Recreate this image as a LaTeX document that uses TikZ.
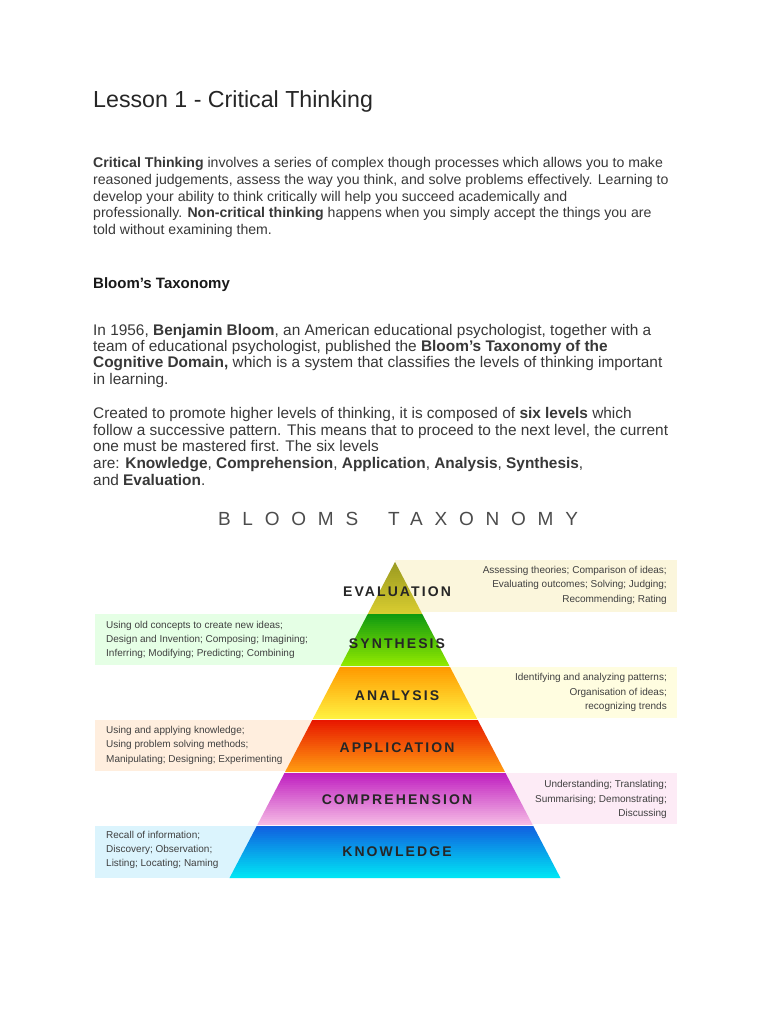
\documentclass[tikz,border=0pt]{standalone}
\usepackage{fontspec}
\setmainfont{Liberation Sans}
\newfontfamily\spacedfont[LetterSpace=15]{Liberation Sans}
\newfontfamily\widefont[LetterSpace=62]{Liberation Sans}
\begin{document}
\begin{tikzpicture}[x=1pt,y=-1pt,
  body/.style={anchor=base west,inner sep=0,text=black!78,font=\fontsize{14.1}{16}\selectfont},
  bodyb/.style={anchor=base west,inner sep=0,text=black!78,font=\fontsize{15.4}{17}\selectfont},
  lvl/.style={inner sep=0,text=black!85,font=\spacedfont\bfseries\fontsize{14}{16}\selectfont},
  side/.style={inner sep=0,text=black!75,font=\fontsize{10}{12}\selectfont},
  sidel/.style={side,anchor=base west},
  sider/.style={side,anchor=base east}]
\useasboundingbox (0,0) rectangle (768,1024);
\fill[white] (0,0) rectangle (768,1024);
\node[anchor=base west,inner sep=0,text=black!85,font=\fontsize{23.2}{27}\selectfont] (title) at (93,108) {Lesson 1 - Critical Thinking};
\node[body] (p1) at (93,168) {\textbf{Critical Thinking} involves a series of complex though processes which allows you to make};
\node[body] (p2) at (93,185) {reasoned judgements, assess the way you think, and solve problems effectively. Learning to};
\node[body] (p3) at (93,202) {develop your ability to think critically will help you succeed academically and};
\node[body] (p4) at (93,218) {professionally. \textbf{Non-critical thinking} happens when you simply accept the things you are};
\node[body] (p5) at (93,235) {told without examining them.};
\node[body,text=black!90,font=\bfseries\fontsize{15}{17}\selectfont] (h) at (93,288) {Bloom's Taxonomy};
\node[bodyb] (q1) at (93,335) {In 1956, \textbf{Benjamin Bloom}, an American educational psychologist, together with a};
\node[bodyb] (q2) at (93,351) {team of educational psychologist, published the \textbf{Bloom's Taxonomy of the}};
\node[bodyb] (q3) at (93,367) {\textbf{Cognitive Domain,} which is a system that classifies the levels of thinking important};
\node[bodyb] (q4) at (93,384) {in learning.};
\node[bodyb] (r1) at (93,418) {Created to promote higher levels of thinking, it is composed of \textbf{six levels} which};
\node[bodyb] (r2) at (93,435) {follow a successive pattern. This means that to proceed to the next level, the current};
\node[bodyb] (r3) at (93,451) {one must be mastered first. The six levels};
\node[bodyb] (r4) at (93,468) {are: \textbf{Knowledge}, \textbf{Comprehension}, \textbf{Application}, \textbf{Analysis}, \textbf{Synthesis},};
\node[bodyb] (r5) at (93,485) {and \textbf{Evaluation}.};
\node[inner sep=0,text=black!70,font=\widefont\fontsize{19}{22}\selectfont] (bt) at (398,519) {BLOOMS\hspace{30pt}TAXONOMY};
% side boxes
\fill[yellow!60!brown!15] (395,560) rectangle (677,612);
\fill[green!10] (95,614) rectangle (395,665);
\fill[yellow!12] (395,667) rectangle (677,718);
\fill[orange!13] (95,720) rectangle (395,771);
\fill[magenta!8] (395,773) rectangle (677,824);
\fill[cyan!14] (95,826) rectangle (395,878);
% pyramid bands as stacked strips
\definecolor{e1}{HTML}{9A9A20}\definecolor{e2}{HTML}{D8CC30}
\definecolor{s1}{HTML}{109A10}\definecolor{s2}{HTML}{90E800}
\definecolor{a1}{HTML}{FF9A00}\definecolor{a2}{HTML}{FFF040}
\definecolor{ap1}{HTML}{E81800}\definecolor{ap2}{HTML}{FF9A10}
\definecolor{c1}{HTML}{C020C0}\definecolor{c2}{HTML}{F4B8E4}
\definecolor{k1}{HTML}{1060E0}\definecolor{k2}{HTML}{00E4F4}
\foreach \ya/\ca/\cb in {562/e1/e2,614/s1/s2,667/a1/a2,720/ap1/ap2,773/c1/c2,826/k1/k2}{
  \foreach \i in {0,...,25}{
    \pgfmathsetmacro\ytop{\ya+2*\i}
    \pgfmathsetmacro\ybot{\ya+2*\i+2.2}
    \pgfmathsetmacro\wa{0.5237*(\ytop-562)}
    \pgfmathsetmacro\wb{0.5237*(\ybot-562)}
    \pgfmathtruncatemacro\pc{4*\i}
    \fill[\cb!\pc!\ca] (395-\wa,\ytop) -- (395+\wa,\ytop) -- (395+\wb,\ybot) -- (395-\wb,\ybot) -- cycle;
  }
}
\node[lvl] (ev) at (397,592) {EVALUATION};
\node[lvl] (sy) at (397,644) {SYNTHESIS};
\node[lvl] (an) at (397,696) {ANALYSIS};
\node[lvl] (ap) at (397,748) {APPLICATION};
\node[lvl] (co) at (397,800) {COMPREHENSION};
\node[lvl] (kn) at (397,852) {KNOWLEDGE};
\node[sider] (e1t) at (667,573) {Assessing theories; Comparison of ideas;};
\node[sider] (e2t) at (667,587) {Evaluating outcomes; Solving; Judging;};
\node[sider] (e3t) at (667,602) {Recommending; Rating};
\node[sidel] (s1t) at (106,628) {Using old concepts to create new ideas;};
\node[sidel] (s2t) at (106,642) {Design and Invention; Composing; Imagining;};
\node[sidel] (s3t) at (106,656) {Inferring; Modifying; Predicting; Combining};
\node[sider] (a1t) at (667,680) {Identifying and analyzing patterns;};
\node[sider] (a2t) at (667,695) {Organisation of ideas;};
\node[sider] (a3t) at (667,709) {recognizing trends};
\node[sidel] (p1t) at (106,733) {Using and applying knowledge;};
\node[sidel] (p2t) at (106,747) {Using problem solving methods;};
\node[sidel] (p3t) at (106,762) {Manipulating; Designing; Experimenting};
\node[sider] (c1t) at (667,787) {Understanding; Translating;};
\node[sider] (c2t) at (667,802) {Summarising; Demonstrating;};
\node[sider] (c3t) at (667,816) {Discussing};
\node[sidel] (k1t) at (106,838) {Recall of information;};
\node[sidel] (k2t) at (106,852) {Discovery; Observation;};
\node[sidel] (k3t) at (106,866) {Listing; Locating; Naming};
\end{tikzpicture}
\end{document}
